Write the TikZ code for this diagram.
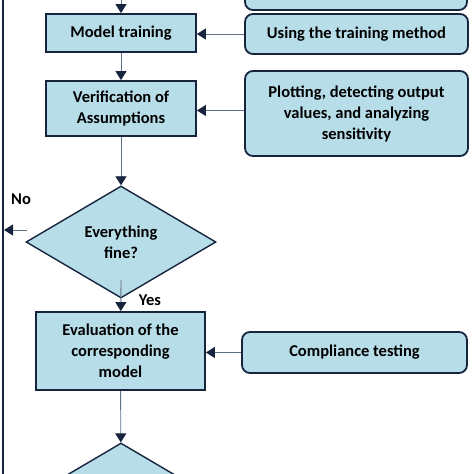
\documentclass[tikz,border=0pt]{standalone}
\usepackage{fontspec}
\setmainfont{Carlito}
\usetikzlibrary{arrows.meta,shapes.geometric}
\definecolor{boxfill}{RGB}{183,221,232}
\definecolor{boxline}{RGB}{22,36,62}
\definecolor{arrline}{RGB}{96,112,138}

\begin{document}
\begin{tikzpicture}[x=1pt,y=-1pt,font=\fontsize{16.5}{21}\selectfont\bfseries]
	\tikzstyle{stepbox}=[draw=boxline,line width=1.8pt,fill=boxfill,align=center,inner sep=2pt]
	\tikzstyle{method}=[stepbox,rounded corners=8pt]
	\tikzstyle{check}=[diamond,draw=boxline,line width=1.4pt,fill=boxfill,align=center,minimum width=190pt,minimum height=112pt,inner sep=0pt]
	\tikzstyle{flow}=[line width=0.9pt,arrline,-{Triangle[length=9pt,width=11pt,color=boxline]}]
	\useasboundingbox (0,0) rectangle (474,474);
	\begin{scope}
	\clip (0,0) rectangle (474,474);
	\node (top) at (356,-12) [method,minimum width=222pt,minimum height=44pt] {};
	\node (mt) at (121,33) [stepbox,minimum width=150pt,minimum height=38pt] {Model training};
	\node (using) at (356.5,34) [method,minimum width=223pt,minimum height=40pt] {Using the training method};
	\node (va) at (121,108.5) [stepbox,minimum width=150pt,minimum height=55pt] {Verification of\\Assumptions};
	\node (plot) at (356.5,113.5) [method,minimum width=223pt,minimum height=85pt] {Plotting, detecting output\\values, and analyzing\\sensitivity};
	\node (fine) at (121,242) [check] {Everything\\fine?};
	\node (eval) at (120.5,351) [stepbox,minimum width=169pt,minimum height=78pt] {Evaluation of the\\corresponding\\model};
	\node (comp) at (354.5,352.5) [method,minimum width=225pt,minimum height=41pt] {Compliance testing};
	\node (next) at (121,499) [check] {};
	\end{scope}
	\coordinate (in) at (121,0);
	\coordinate (yes) at (121,280);
	\coordinate (nofrom) at (27,230);
	\coordinate (noto) at (4,230);
	\coordinate (loopa) at (3,0);
	\coordinate (loopb) at (3,474);
	\draw [flow] (in) -- (mt);
	\draw [flow] (using.west) -- (using.west -| mt.east);
	\draw [flow] (mt) -- (va);
	\draw [flow] ([yshift=3pt]plot.west) -- ([yshift=3pt]plot.west -| va.east);
	\draw [flow] (va) -- (fine);
	\draw [flow] (yes) -- (eval);
	\draw [flow] (comp.west) -- (comp.west -| eval.east);
	\draw [flow] (eval) -- (next);
	\draw [flow] (nofrom) -- (noto);
	\draw [boxline,line width=1.2pt] (loopa) -- (loopb);
	\node at (21,199) {No};
	\node at (150,300) {Yes};
\end{tikzpicture}
\end{document}
